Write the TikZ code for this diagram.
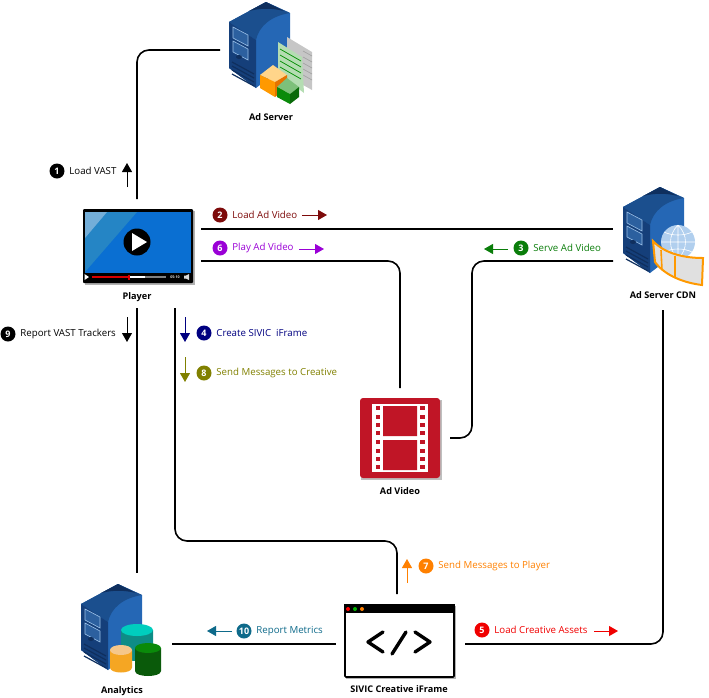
\documentclass[tikz,border=0pt]{standalone}
\usepackage{fontspec}
\setmainfont{Open Sans}
\usetikzlibrary{positioning,arrows.meta}
\definecolor{srvcap}{HTML}{0F2F5E}
\definecolor{srvtop}{HTML}{1B4F8E}
\definecolor{srvside}{HTML}{2567B5}
\definecolor{srvfront}{HTML}{153F7A}
\definecolor{srvbay}{HTML}{2C609F}
\definecolor{srvline}{HTML}{9DC3EA}
\definecolor{cdnorange}{HTML}{FF9900}
\definecolor{numdred}{HTML}{7D0A0A}
\definecolor{numgreen}{HTML}{0A7D0A}
\definecolor{numnavy}{HTML}{000080}
\definecolor{numred}{HTML}{F00000}
\definecolor{numpurple}{HTML}{9A00D6}
\definecolor{numorange}{HTML}{FF8000}
\definecolor{numolive}{HTML}{808000}
\definecolor{numteal}{HTML}{0E6A8A}
\definecolor{filmred}{HTML}{C01526}
\definecolor{screenblue}{HTML}{0A6FD2}
\definecolor{screenmid}{HTML}{2585C5}
\definecolor{screenpale}{HTML}{74AED8}
\definecolor{docgreen}{HTML}{B4DDB2}
\definecolor{cubepale}{HTML}{FFD58A}
\definecolor{cubelime}{HTML}{7DC07A}
\definecolor{cubegreen}{HTML}{0A8A0A}
\definecolor{cubedark}{HTML}{0A6A0A}
\definecolor{cylteal}{HTML}{0E8C86}
\definecolor{cylcyan}{HTML}{00CDBE}
\definecolor{cylorange}{HTML}{F5A623}
\definecolor{cylpeach}{HTML}{F5C78A}
\definecolor{cyldark}{HTML}{0A5A0A}
\tikzset{
    icon/.style={inner sep=0pt, outer sep=0pt},
    iconcap/.style={inner sep=0pt, font=\fontsize{9.15}{11}\selectfont\bfseries},
    conn/.style={line width=1.6pt, rounded corners=12pt},
    badge/.style={circle, inner sep=0pt, minimum size=15pt, fill=#1, text=white,
        font=\fontsize{9}{9}\selectfont\bfseries},
    lbl/.style={inner sep=0pt, text=#1, font=\fontsize{9.7}{11}\selectfont},
    flow/.style={draw=#1, line width=1pt, -{Triangle[width=10pt,length=9pt]}},
    pics/server/.style={code={
        \fill[srvside] (0,22) -- (37,2) -- (61,13) -- (61,62) -- (27,88) -- (0,68) -- cycle;
        \fill[srvtop] (0,22) -- (37,2) -- (61,13) .. controls (42,16) and (30,26) .. (27,40) -- cycle;
        \fill[srvcap] (20,11) -- (37,2) -- (55,11) .. controls (43,8) and (32,8) .. (20,11) -- cycle;
        \fill[srvfront] (0,22) -- (27,40) -- (27,88) -- (0,68) -- cycle;
        \foreach \ybay in {27,41} {
            \filldraw[fill=srvbay, draw=srvline, line width=.6pt]
                (4,\ybay) -- (19,\ybay+8) -- (19,\ybay+19) -- (4,\ybay+11) -- cycle;
        }
        \fill[srvcap] (10,57) ellipse (3pt and 2pt);
        \foreach \yv in {62,66,70,74} {
            \draw[srvcap, line width=1.2pt] (3,\yv) -- (25,\yv+12);
        }
    }},
    pics/cylinder/.style args={#1/#2/#3/#4/#5}{code={
        \fill[#4] (-#1,0) -- (-#1,#3) .. controls (-#1,#3+1.33*#2) and (#1,#3+1.33*#2) .. (#1,#3) -- (#1,0) -- cycle;
        \fill[#5] (0,0) ellipse (#1pt and #2pt);
    }},
}
\begin{document}
\begin{tikzpicture}[x=1pt, y=-1pt]
\useasboundingbox (0,0) rectangle (709,697);

% icon places
\node[icon, minimum width=86pt, minimum height=86pt] (adserver) at (272,45) {};
\node[icon, minimum width=110pt, minimum height=74pt] (player) at (138,246) {};
\node[icon, minimum width=82pt, minimum height=86pt] (cdn) at (663,234) {};
\node[icon, minimum width=80pt, minimum height=80pt] (advideo) at (400,438) {};
\node[icon, minimum width=84pt, minimum height=92pt] (analytics) at (123,629) {};
\node[icon, minimum width=110pt, minimum height=73pt] (iframe) at (399,640.5) {};

\node[iconcap, below=25pt of adserver, xshift=-1pt] (adservercap) {Ad Server};
\node[iconcap, below=9pt of player, xshift=-1pt] (playercap) {Player};
\node[iconcap, below=14.5pt of cdn] (cdncap) {Ad Server CDN};
\node[iconcap, below=9pt of advideo] (advideocap) {Ad Video};
\node[iconcap, below=11pt of analytics, xshift=-1pt] (analyticscap) {Analytics};
\node[iconcap, below=8pt of iframe] (iframecap) {SIVIC Creative iFrame};

% connectors
\draw[conn] ([xshift=-1pt,yshift=10pt]player.north) |- ([xshift=-9pt,yshift=-5pt]adserver.west);
\draw[conn] ([xshift=8pt,yshift=17pt]player.east) -- ([xshift=-9pt,yshift=5pt]cdn.west);
\draw[conn] ([xshift=8pt,yshift=-15pt]player.east) -| ([yshift=10pt]advideo.north);
\draw[conn] ([xshift=-9pt,yshift=-27pt]cdn.west) -- ++(-141,0) |- ([xshift=10pt]advideo.east);
\draw[conn] ([xshift=37pt,yshift=-25pt]player.south) -- ++(0,233) -| ([xshift=-2pt,yshift=10pt]iframe.north);
\draw[conn] ([xshift=-1pt,yshift=-25pt]player.south) -- ([xshift=14pt,yshift=10pt]analytics.north);
\draw[conn] ([yshift=-33pt]cdn.south) |- ([xshift=11pt,yshift=-3.5pt]iframe.east);
\draw[conn] ([xshift=7pt,yshift=-15pt]analytics.east) -- ([xshift=-8pt,yshift=-3.5pt]iframe.west);

% badges and their labels
\foreach \n/\xb/\yb/\col/\txt in {
    1/57/171/black/Load VAST,
    2/220/215/numdred/Load Ad Video,
    3/521/248/numgreen/Serve Ad Video,
    4/204/333/numnavy/Create SIVIC\ \ iFrame,
    5/482/630/numred/Load Creative Assets,
    6/220/248/numpurple/Play Ad Video,
    7/426/566/numorange/Send Messages to Player,
    8/204/373/numolive/Send Messages to Creative,
    9/8/334/black/Report VAST Trackers,
    10/244/631/numteal/Report Metrics} {
    \node[badge=\col] (b\n) at (\xb,\yb) {\n};
    \node[lbl=\col, right=4.5pt of b\n] (t\n) {\txt};
}

% small arrows
\foreach \n/\xa/\ya/\xc/\yc/\col in {
    1/127/187/127/163/black,
    2/302/215/327/215/numdred,
    3/508/249/484/249/numgreen,
    4/185/317/185/342/numnavy,
    5/594/631/618/631/numred,
    6/299/249/324/249/numpurple,
    7/407/583/407/559/numorange,
    8/185/357/185/382/numolive,
    9/127/317/127/342/black,
    10/232/631/207/631/numteal} {
    \coordinate (s\n) at (\xa,\ya);
    \coordinate (e\n) at (\xc,\yc);
    \draw[flow=\col] (s\n) -- (e\n);
}

% ad server
\pic at (229,0) {server};
\fill[gray!45] (287,37) -- (312,52) -- (312,90) -- (287,76) -- cycle;
\foreach \yl in {46,52,58,64,70} {
    \draw[gray!75, line width=.6pt] (303,\yl+5) -- (312,\yl+10);
}
\fill[docgreen] (278,42) -- (302,57) -- (304,93) -- (278,73) -- cycle;
\foreach \yl in {49,55,61,67} {
    \draw[green!55!black, line width=.7pt] (280,\yl) -- (301,\yl+12);
}
\fill[cubepale] (260,75) -- (273,65) -- (287,75) -- (275,82) -- cycle;
\fill[cdnorange] (260,75) -- (275,82) -- (275,97) -- (260,88) -- cycle;
\fill[orange!90!black] (275,82) -- (287,75) -- (287,88) -- (275,97) -- cycle;
\fill[cubelime] (277,87) -- (287,78) -- (299,87) -- (290,94) -- cycle;
\fill[cubegreen] (277,87) -- (290,94) -- (290,104) -- (277,97) -- cycle;
\fill[cubedark] (290,94) -- (299,87) -- (299,97) -- (290,104) -- cycle;

% player
\fill[black!30] (85,211) rectangle (195,285);
\fill[black, rounded corners=1pt] (83,209) rectangle (193,283);
\fill[screenblue] (85,212) rectangle (191,273);
\fill[screenmid] (85,272) -- (85,212) -- (137,212) -- cycle;
\fill[screenpale] (85,212) -- (107,212) -- (85,238) -- cycle;
\fill[black] (137,242) circle (13.5pt);
\fill[white] (132,233) -- (147,242) -- (132,251) -- cycle;
\fill[white] (84.5,274) -- (89,277) -- (84.5,280) -- cycle;
\draw[gray, line width=1.4pt] (92,277) -- (166,277);
\draw[white, line width=1.4pt] (92,277) -- (145,277);
\draw[red!85!black, line width=1.4pt] (92,277) -- (129,277);
\fill[red!85!black] (128,274.5) rectangle (130,279.5);
\node[inner sep=0pt, text=white!85!black, font=\fontsize{3.6}{4}\selectfont\bfseries] (ptime) at (175,277) {05:10};
\fill[white!85!black] (184,275.5) rectangle (186,278.5) (186,275.5) -- (189,274) -- (189,280) -- (186,278.5) -- cycle;

% ad server cdn
\pic at (623,185) {server};
\fill[srvline!80!white] (678,242) circle (17pt);
\draw[white, line width=.6pt] (678,225) -- (678,259) (661,242) -- (695,242)
    (678,225) .. controls (668,235) and (668,249) .. (678,259)
    (678,225) .. controls (688,235) and (688,249) .. (678,259)
    (664,232) .. controls (672,236) and (684,236) .. (692,232)
    (664,252) .. controls (672,248) and (684,248) .. (692,252);
\filldraw[fill=black!12, draw=cdnorange, line width=2pt] (653,241) .. controls (665,254) and (685,258) .. (703,258)
    -- (702,285) .. controls (685,283) and (665,276) .. (655,262) -- cycle;
\draw[cdnorange, line width=1.6pt] (661,250) -- (662,270) (675,256) -- (675,278);

% ad video
\fill[black!25] (361,399.5) rectangle (441.5,479.5);
\fill[filmred, rounded corners=3pt] (360,398) rectangle (440,478);
\fill[white] (372,404) rectangle (428,472);
\fill[filmred] (383,406) rectangle (417,436) (383,440) rectangle (417,470);
\foreach \yh in {408.3,416.7,425,433.3,442.3,450.7,459,467.3} {
    \fill[filmred] (376,\yh-2) rectangle (380,\yh+2);
    \fill[filmred] (420,\yh-2) rectangle (424.5,\yh+2);
}

% analytics
\pic at (81,582) {server};
\pic at (137,630) {cylinder={16/6/25/cylteal/cylcyan}};
\pic at (121,650) {cylinder={11/5/17.5/cylorange/cylpeach}};
\pic at (148,648) {cylinder={13/5/23/cyldark/cubegreen}};

% iframe
\fill[black!30] (346,606) rectangle (456,679);
\filldraw[fill=white, draw=black, line width=1.6pt, rounded corners=1pt] (345,605) rectangle (454,677);
\fill[black] (344,604) rectangle (455,613);
\fill[red] (348,609) circle (2pt);
\fill[green!70!black] (355,609) circle (2pt);
\fill[orange] (362,609) circle (2pt);
\draw[line width=3.4pt, line cap=round, line join=round] (383,632) -- (368,642) -- (383,652);
\draw[line width=3.4pt, line cap=round] (406,632) -- (392,654);
\draw[line width=3.4pt, line cap=round, line join=round] (415,632) -- (430,642) -- (415,652);
\end{tikzpicture}
\end{document}
